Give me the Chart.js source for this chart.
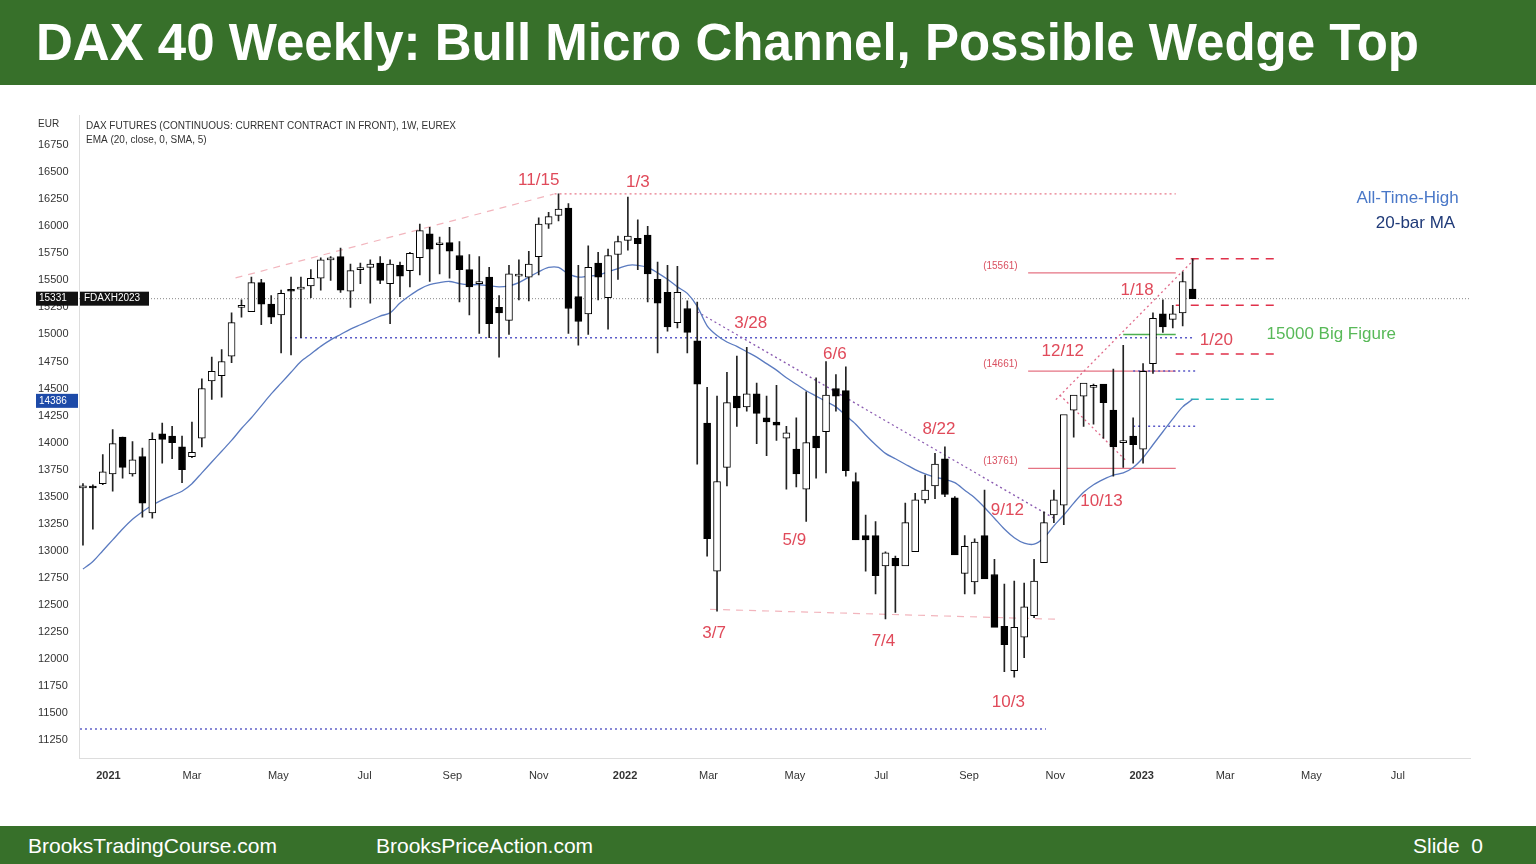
<!DOCTYPE html>
<html>
<head>
<meta charset="utf-8">
<script src="https://cdn.jsdelivr.net/npm/chart.js@4/dist/chart.umd.min.js"></script>
<style>
body { margin: 0; width: 1536px; height: 864px; position: relative; background: #fff; overflow: hidden; font-family: "Liberation Sans", Arial, sans-serif; }
#title { position: absolute; left: 0; top: 0; width: 1536px; height: 85px; background: #37702a; color: #fff; font-weight: bold; font-size: 51px; line-height: 85px; padding-left: 36px; box-sizing: border-box; }
#footer { position: absolute; left: 0; top: 826px; width: 1536px; height: 38px; background: #37702a; color: #fff; font-size: 21px; line-height: 40px; }
#footer span { position: absolute; }
#wrap { position: absolute; left: 0; top: 85px; }
</style>
</head>
<body>
<div id="title">DAX 40 Weekly: Bull Micro Channel, Possible Wedge Top</div>
<div id="wrap"><canvas id="chart" width="1536" height="741"></canvas></div>
<div id="footer"><span style="left:28px">BrooksTradingCourse.com</span><span style="left:376px">BrooksPriceAction.com</span><span style="left:1413px">Slide&nbsp; 0</span></div>
<script>
// weekly bars, first bar = week of 14 Dec 2020
const startWeek = new Date(2020, 11, 14);
const opens = [13580,13590,13620,13710,14050,13710,13870,13350,14080,14060,13960,13870,14040,14570,14620,14800,15250,15210,15480,15280,
  15180,15410,15420,15450,15520,15690,15720,15400,15600,15620,15660,15470,15640,15590,15710,15930,15830,15850,15730,15600,
  15470,15530,15250,15130,15540,15530,15720,16020,16100,16170,15350,15190,15660,15340,15740,15870,15890,15920,15510,15390,
  15110,15240,14940,14180,12810,13770,14430,14330,14450,14230,14190,14040,13940,13570,14060,14100,14500,14480,13640,13140,
  13140,12860,12930,12860,12990,13470,13600,13850,13490,12790,12710,13140,12780,12300,11890,12200,12400,12890,13330,13420,
  14300,14430,14510,14540,14300,14000,14060,13940,14730,15190,15140,15200,15420];
const closes = [13600,13580,13730,13990,13770,13840,13440,14030,14030,14000,13750,13910,14500,14660,14750,15110,15250,15480,15280,15160,
  15380,15400,15420,15520,15690,15690,15410,15590,15600,15650,15500,15650,15540,15750,15960,15790,15830,15770,15600,15440,
  15490,15100,15200,15560,15540,15650,16020,16090,16160,15240,15120,15620,15530,15730,15860,15910,15840,15560,15290,15070,
  15390,15020,14540,13110,13640,14370,14320,14450,14270,14190,14160,14090,13710,14000,13950,14440,14430,13740,13100,13100,
  12770,12980,12860,13260,13470,13560,13800,13520,12960,13040,13080,12740,12290,12130,12290,12480,12720,13260,13470,14260,
  14440,14550,14530,14370,13960,14000,13980,14660,15150,15070,15190,15490,15330];
const highs = [13620,13610,13890,14120,14050,14010,13950,14090,14180,14150,14060,14190,14590,14790,14860,15200,15320,15530,15510,15360,
  15410,15530,15530,15600,15710,15720,15800,15650,15660,15690,15720,15690,15670,15760,16020,15990,15900,15990,15860,15740,
  15720,15620,15360,15640,15690,15770,16080,16130,16300,16210,15640,15820,15760,15790,15910,16270,16060,16000,15670,15640,
  15630,15310,15300,14510,14430,14650,14800,14880,14550,14430,14530,14150,14230,14470,14600,14750,14630,14700,13720,13330,
  13270,12990,12950,13440,13530,13700,13900,13960,13500,13140,13110,13560,12920,12690,12720,12700,12920,13360,13560,14230,
  14420,14530,14540,14460,14680,14900,14230,14730,15200,15320,15270,15580,15700];
const lows = [13050,13200,13610,13550,13670,13690,13310,13300,13810,13850,13630,13860,13960,14400,14420,14740,15160,15230,15090,15100,
  14830,14810,14970,15340,15410,15500,15390,15250,15470,15290,15470,15100,15350,15440,15550,15490,15560,15520,15300,15180,
  15010,14970,14790,15000,15320,15310,15550,15980,16050,15010,14900,15000,15320,15050,15510,15780,15600,15300,14830,15030,
  15060,14830,13800,12950,12440,13600,14150,14290,13990,13880,14020,13570,13590,13270,13670,13720,14290,13690,13110,12810,
  12600,12370,12430,13150,13200,13440,13480,13500,12990,12600,12600,12990,12380,11880,11830,12010,12380,12970,13260,13240,
  14050,14150,14170,14040,13690,13770,13810,13810,14640,15020,15060,15080,15330];
const ema20 = [12830,12900,13000,13100,13200,13290,13360,13420,13470,13510,13550,13620,13720,13820,13920,14020,14130,14230,14340,14450,
  14550,14650,14750,14820,14890,14950,15000,15050,15090,15130,15170,15200,15290,15360,15420,15460,15480,15490,15470,15460,
  15460,15450,15440,15450,15480,15530,15580,15620,15620,15560,15530,15540,15550,15580,15610,15640,15640,15620,15570,15510,
  15440,15380,15260,15080,14990,14930,14890,14840,14790,14730,14670,14600,14540,14480,14430,14380,14330,14250,14170,14070,
  13980,13900,13850,13800,13750,13710,13680,13660,13630,13560,13490,13400,13300,13200,13120,13070,13060,13120,13230,13330,
  13440,13540,13610,13660,13700,13720,13770,13860,13980,14100,14220,14330,14400];

const tickLabels = ['2021','Mar','May','Jul','Sep','Nov','2022','Mar','May','Jul','Sep','Nov','2023','Mar','May','Jul'];
const tickDates = ['2021-01-01','2021-03-01','2021-05-01','2021-07-01','2021-09-01','2021-11-01','2022-01-01','2022-03-01',
  '2022-05-01','2022-07-01','2022-09-01','2022-11-01','2023-01-01','2023-03-01','2023-05-01','2023-07-01'];
const priceTicks = [11250,11500,11750,12000,12250,12500,12750,13000,13250,13500,13750,14000,14250,14500,14750,15000,
  15250,15500,15750,16000,16250,16500,16750];

// swing labels: [text, week index, price]
const swingLabels = [['11/15',46,16427],['1/3',56,16410],['3/28',67.4,15107],['6/6',75.9,14821],['8/22',86.4,14120],
  ['5/9',71.8,13095],['3/7',63.7,12237],['7/4',80.8,12163],['10/3',93.4,11600],['9/12',93.3,13372],['10/13',102.8,13455],
  ['12/12',98.9,14840],['1/18',106.4,15412],['1/20',114.4,14950]];
const levelLabels = [['(15561)',92.6,15633],['(14661)',92.6,14729],['(13761)',92.6,13824]];
// lines: [x1, p1, x2, p2, colour, dash, width]
const lines = [
  [47.6,16300,110.3,16300,'#e8788a',[2,3],1.2],
  [15.4,15523,47.5,16298,'#f2b5bd',[7,6],1.2],
  [-0.4,15331,140,15331,'#888',[1,2],1],
  [20.9,14970,112,14970,'#5a5ac8',[2,3],1.5],
  [62,15210,98.2,13290,'#8a5ab0',[2,3],1.3],
  [63.3,12458,98.2,12366,'#f2b5bd',[7,6],1.2],
  [-0.3,11350,97.2,11350,'#6060c8',[2,3],1.5],
  [95.4,15569,110.3,15569,'#e57383',[],1.2],
  [95.4,14661,110.3,14661,'#e57383',[],1.2],
  [95.4,13761,110.3,13761,'#e57383',[],1.2],
  [98.2,14397,112.3,15707,'#e06a8a',[2,3],1.3],
  [98.6,14440,105.2,13840,'#e06a8a',[2,3],1.3],
  [110.3,15700,120.7,15700,'#e0304a',[8,7],1.5],
  [110.3,15270,120.7,15270,'#e0304a',[8,7],1.5],
  [110.3,14820,120.7,14820,'#e0304a',[8,7],1.5],
  [110.3,14400,120.7,14400,'#2ab8b8',[8,7],1.5],
  [105,15000,110.3,15000,'#4caf50',[],1.5],
  [106,14661,112.3,14661,'#5a5ac8',[2,3],1.5],
  [106,14150,112.3,14150,'#5a5ac8',[2,3],1.5]
];

function weekIndex(d) {
  return (new Date(d) - startWeek) / (7 * 864e5);
}

const idx = opens.map((o, i) => i);
const wicks = idx.map(i => ({ x: i, y: [lows[i], highs[i]] }));
const bodies = idx.map(i => ({ x: i, y: [opens[i], closes[i]] }));
const bodyColors = idx.map(i => closes[i] >= opens[i] ? '#fff' : '#000');

const notes = {
  id: 'notes',
  beforeDatasetsDraw(chart) {
    const ctx = chart.ctx, xs = chart.scales.x, ys = chart.scales.y;
    ctx.save();
    lines.forEach(l => {
      ctx.beginPath();
      ctx.strokeStyle = l[4];
      ctx.lineWidth = l[6];
      ctx.setLineDash(l[5]);
      ctx.moveTo(xs.getPixelForValue(l[0]), ys.getPixelForValue(l[1]));
      ctx.lineTo(xs.getPixelForValue(l[2]), ys.getPixelForValue(l[3]));
      ctx.stroke();
    });
    ctx.restore();
  },
  afterDatasetsDraw(chart) {
    const ctx = chart.ctx, xs = chart.scales.x, ys = chart.scales.y;
    ctx.save();
    ctx.textAlign = 'center';
    ctx.textBaseline = 'middle';
    ctx.fillStyle = '#e04a5a';
    ctx.font = '17px "Liberation Sans", Arial';
    swingLabels.forEach(s => ctx.fillText(s[0], xs.getPixelForValue(s[1]), ys.getPixelForValue(s[2])));
    ctx.font = '10px "Liberation Sans", Arial';
    ctx.fillStyle = '#d95060';
    levelLabels.forEach(s => ctx.fillText(s[0], xs.getPixelForValue(s[1]), ys.getPixelForValue(s[2])));
    ctx.font = '17px "Liberation Sans", Arial';
    ctx.fillStyle = '#58b958';
    ctx.fillText('15000 Big Figure', xs.getPixelForValue(126), ys.getPixelForValue(15006));
    ctx.fillStyle = '#4a78c8';
    ctx.fillText('All-Time-High', xs.getPixelForValue(133.7), ys.getPixelForValue(16260));
    ctx.fillStyle = '#1f3a78';
    ctx.fillText('20-bar MA', xs.getPixelForValue(134.5), ys.getPixelForValue(16030));

    // header text and price tags
    ctx.textAlign = 'left';
    ctx.fillStyle = '#333';
    ctx.font = '10px "Liberation Sans", Arial';
    ctx.fillText('EUR', 38, 39);
    ctx.fillText('DAX FUTURES (CONTINUOUS: CURRENT CONTRACT IN FRONT), 1W, EUREX', 86, 41);
    ctx.fillText('EMA (20, close, 0, SMA, 5)', 86, 55);
    const y1 = ys.getPixelForValue(15331);
    ctx.fillStyle = '#111';
    ctx.fillRect(36, y1 - 7, 42, 14);
    ctx.fillRect(80, y1 - 7, 69, 14);
    ctx.fillStyle = '#fff';
    ctx.fillText('15331', 39, y1);
    ctx.fillText('FDAXH2023', 84, y1);
    const y2 = ys.getPixelForValue(14386);
    ctx.fillStyle = '#1d4aa8';
    ctx.fillRect(36, y2 - 7, 42, 14);
    ctx.fillStyle = '#fff';
    ctx.fillText('14386', 39, y2);
    ctx.restore();
  }
};

new Chart(document.getElementById('chart'), {
  type: 'bar',
  data: {
    datasets: [{
      type: 'line',
      data: idx.map(i => ({ x: i, y: ema20[i] })),
      borderColor: '#5b7bc0',
      borderWidth: 1.3,
      pointRadius: 0,
      tension: 0.3,
      order: 3
    }, {
      data: wicks,
      backgroundColor: '#222',
      barThickness: 1,
      grouped: false,
      order: 2
    }, {
      data: bodies,
      backgroundColor: bodyColors,
      borderColor: '#000',
      borderWidth: 1,
      borderSkipped: false,
      barThickness: 7,
      minBarLength: 2,
      grouped: false,
      order: 1
    }]
  },
  options: {
    responsive: false,
    animation: false,
    layout: { padding: { left: 38, right: 66, top: 30, bottom: 40 } },
    plugins: { legend: { display: false }, tooltip: { enabled: false } },
    scales: {
      x: {
        type: 'linear',
        min: -0.4,
        max: 140,
        offset: false,
        grid: { display: false },
        border: { color: '#ddd' },
        afterBuildTicks: axis => { axis.ticks = tickDates.map(d => ({ value: weekIndex(d) })); },
        ticks: {
          autoSkip: false,
          maxRotation: 0,
          color: '#333',
          font: ctx => ({ size: 11, weight: /^\d/.test(tickLabels[ctx.index] || '') ? 'bold' : 'normal' }),
          callback: (v, i) => tickLabels[i]
        }
      },
      y: {
        min: 11075,
        max: 17030,
        grid: { display: false },
        border: { color: '#ddd' },
        afterBuildTicks: axis => { axis.ticks = priceTicks.map(v => ({ value: v })); },
        afterFit: axis => { axis.width = 41; },
        ticks: { color: '#333', font: { size: 11 }, crossAlign: 'far', padding: 6, callback: v => String(v) }
      }
    }
  },
  plugins: [notes]
});
</script>
</body>
</html>
